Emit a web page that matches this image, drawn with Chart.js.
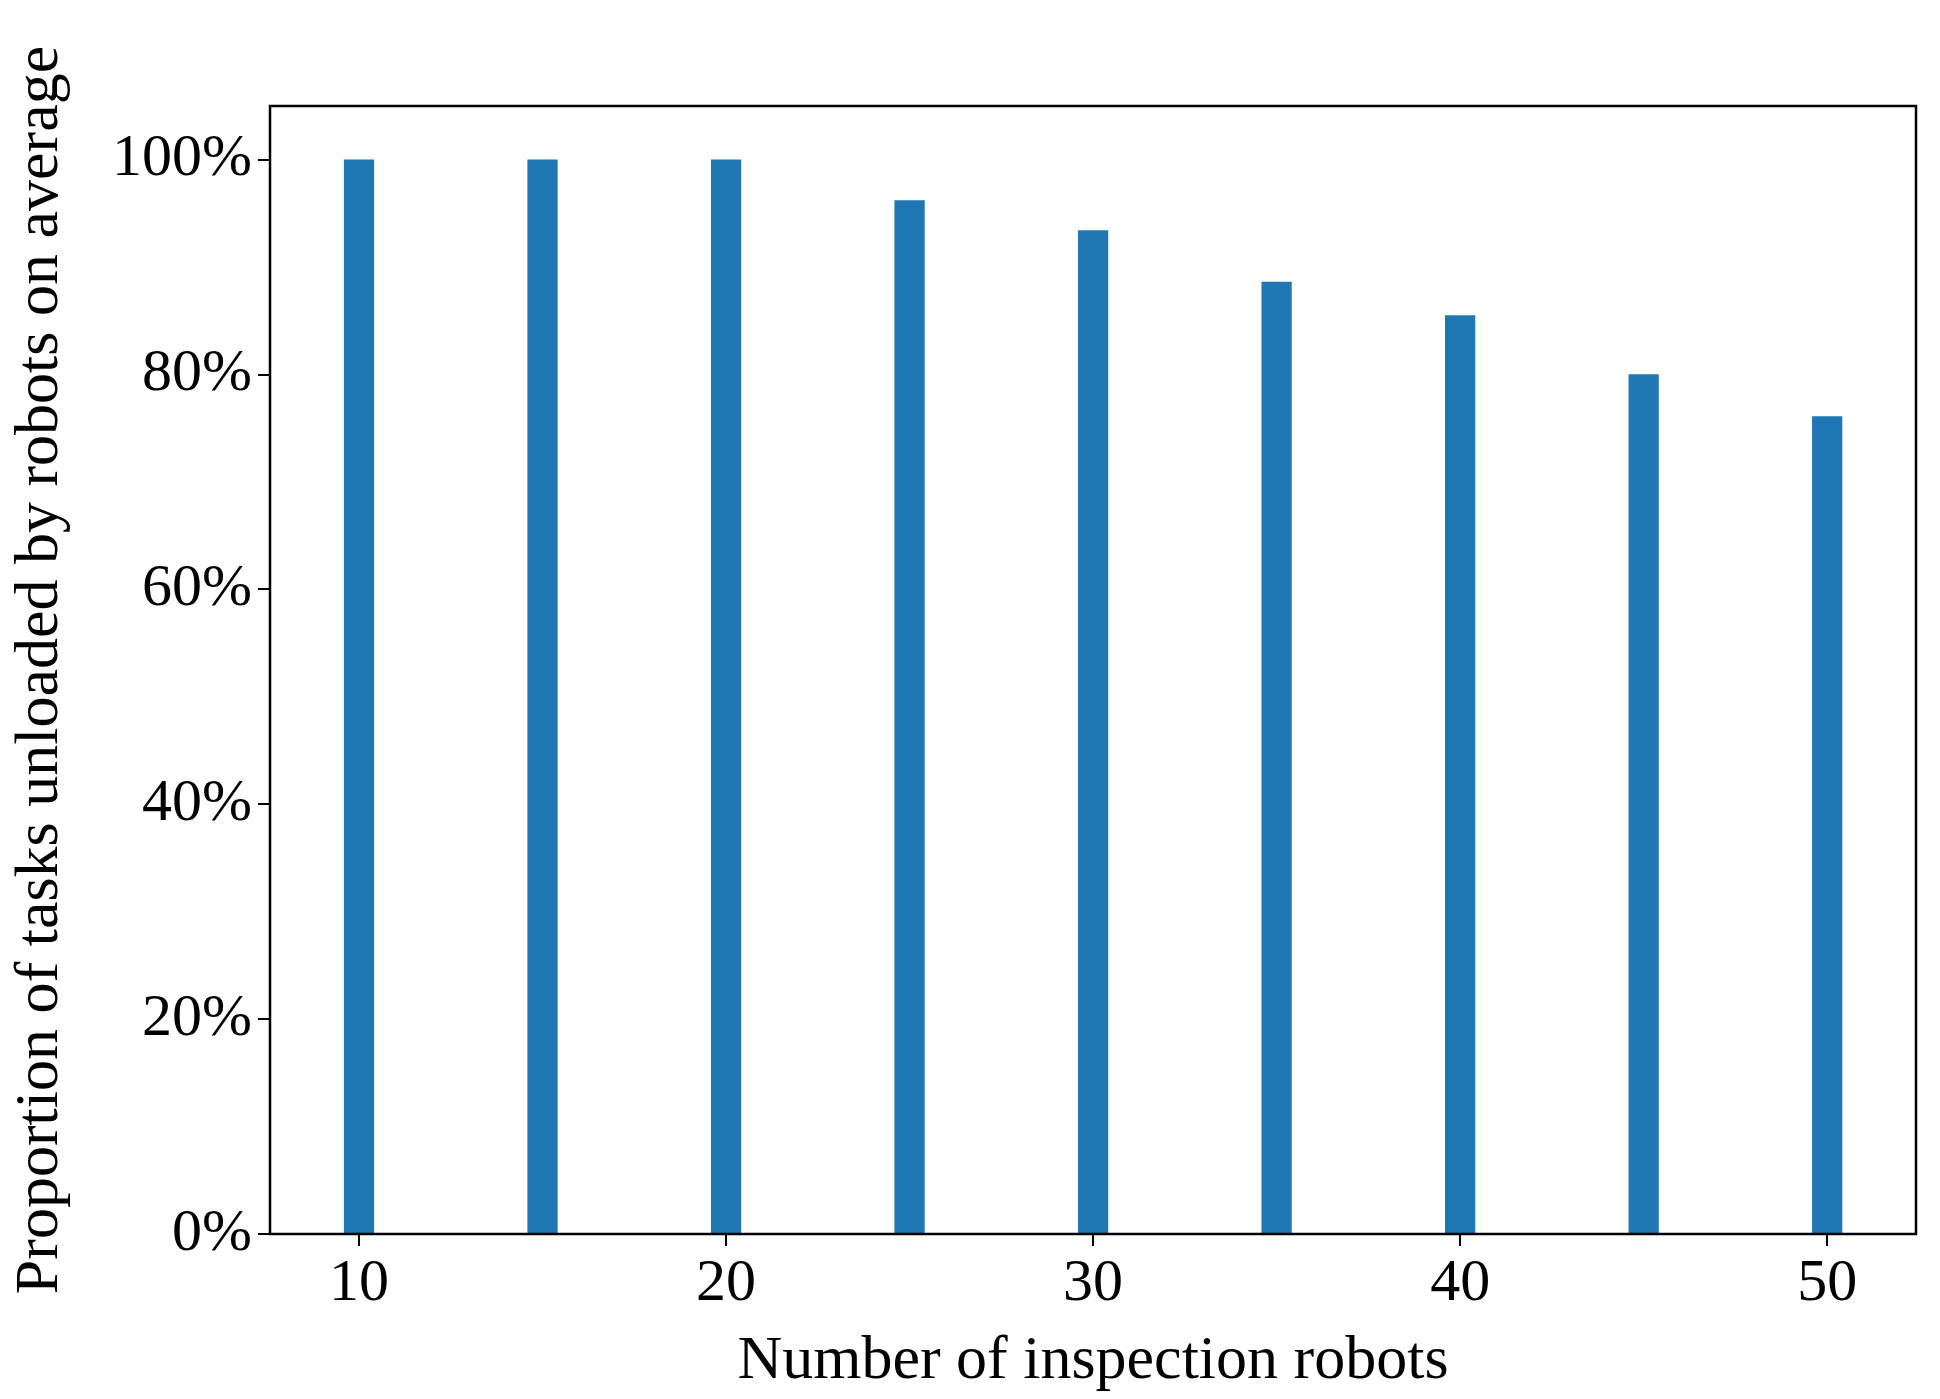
<!DOCTYPE html>
<html><head><meta charset="utf-8">
<script src="https://cdn.jsdelivr.net/npm/chart.js@4"></script>
<style>html,body{margin:0;padding:0;background:#fff}#c{display:block}</style>
</head><body>
<canvas id="c" width="1940" height="1399"></canvas>
<script>
const robots = [10, 15, 20, 25, 30, 35, 40, 45, 50];
const proportions = [100, 100, 100, 96.2, 93.4, 88.6, 85.5, 80.0, 76.1];
const xTicks = [10, 20, 30, 40, 50];
const yTicks = [0, 20, 40, 60, 80, 100];

const boxPlugin = {
  id: 'box',
  afterDraw(chart) {
    const a = chart.chartArea, ctx = chart.ctx;
    ctx.save(); ctx.strokeStyle = '#000'; ctx.lineWidth = 2.5;
    ctx.strokeRect(a.left, a.top, a.right - a.left, a.bottom - a.top);
    ctx.restore();
  }
};
const tickFont = {family: '"Liberation Serif", "DejaVu Serif", serif', size: 60};
const titleFont = {family: '"Liberation Serif", "DejaVu Serif", serif', size: 62};
new Chart(document.getElementById('c'), {
  type: 'bar',
  data: { datasets: [{
    data: robots.map((r, i) => ({x: r, y: proportions[i]})),
    backgroundColor: '#1f77b4', barThickness: 29.6, borderWidth: 0
  }]},
  options: {
    responsive: false, animation: false,
    layout: {padding: {top: 106, right: 24, left: 4, bottom: 0}},
    plugins: {legend: {display: false}, tooltip: {enabled: false}},
    scales: {
      x: {
        type: 'linear', min: 7.575, max: 52.42, offset: false,
        afterBuildTicks: s => { s.ticks = xTicks.map(v => ({value: v})); },
        afterFit: s => { s.height = 165; },
        grid: {display: true, offset: false, drawOnChartArea: false, drawTicks: true, tickLength: 12, color: '#000', lineWidth: 2},
        border: {display: false},
        ticks: {font: tickFont, color: '#000', padding: 2, maxRotation: 0},
        title: {display: true, text: 'Number of inspection robots', font: titleFont, color: '#000', padding: {top: 0, bottom: 0}}
      },
      y: {
        min: 0, max: 105,
        afterBuildTicks: s => { s.ticks = yTicks.map(v => ({value: v})); },
        afterFit: s => { s.width = 266; },
        grid: {display: true, drawOnChartArea: false, drawTicks: true, tickLength: 12, color: '#000', lineWidth: 2},
        border: {display: false},
        ticks: {font: tickFont, color: '#000', padding: 6, callback: v => v + '%'},
        title: {display: true, text: 'Proportion of tasks unloaded by robots on average', font: titleFont, color: '#000', padding: {top: 0, bottom: 10}}
      }
    }
  },
  plugins: [boxPlugin]
});
</script>
</body></html>
